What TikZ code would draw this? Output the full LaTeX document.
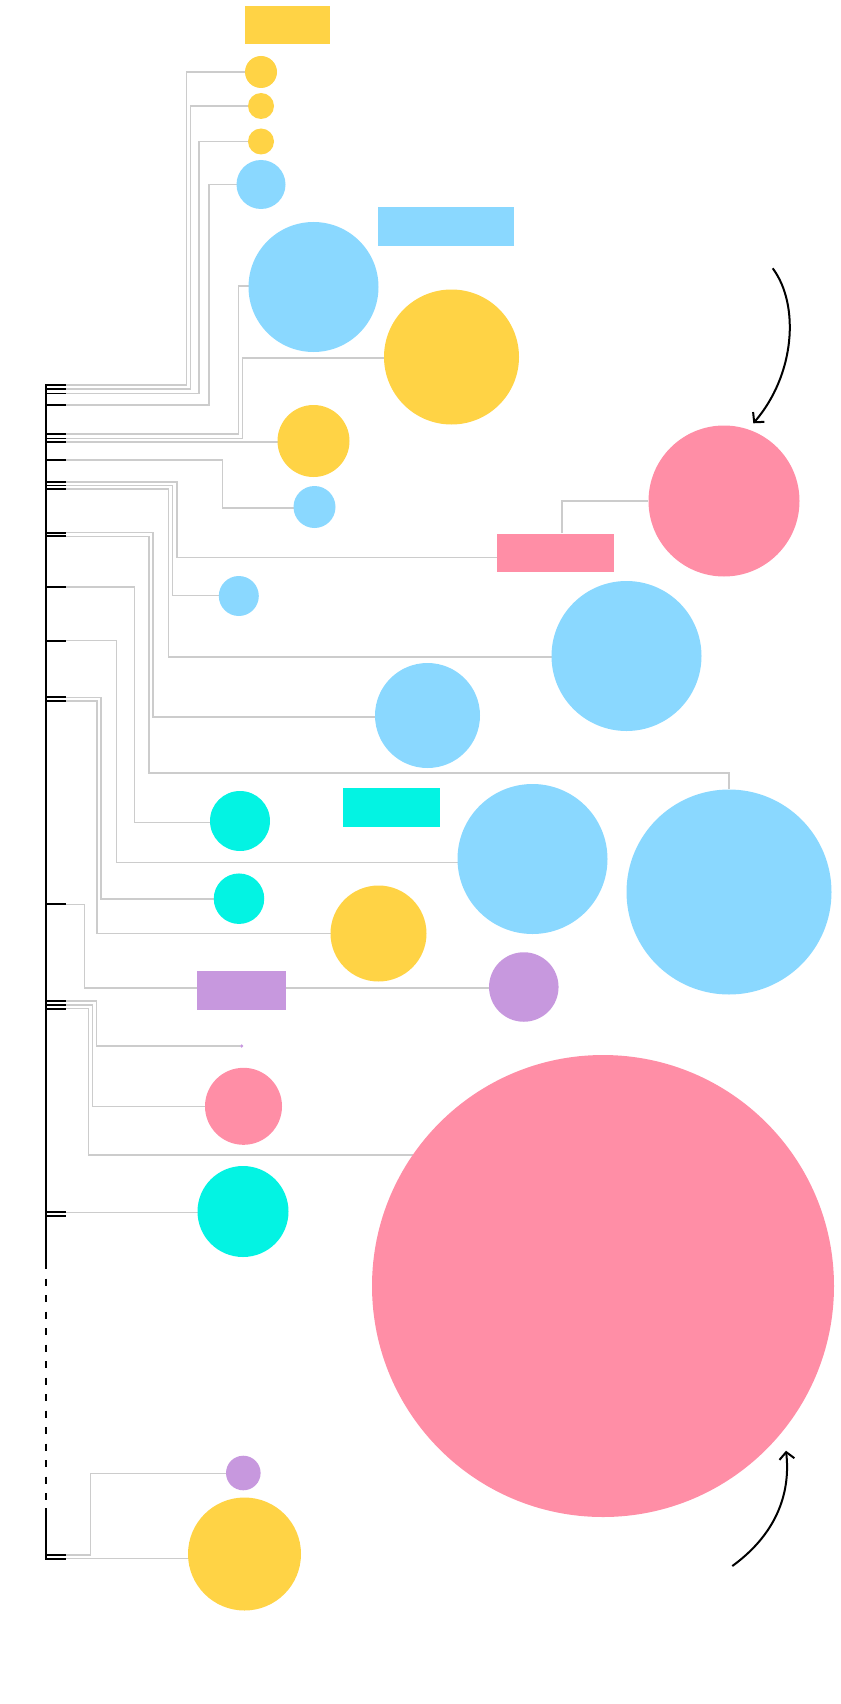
\documentclass[tikz,border=0pt]{standalone}
\usetikzlibrary{arrows.meta,calc}
\pgfdeclarelayer{background}
\pgfsetlayers{background,main}
\definecolor{cyel}{RGB}{255,211,69}
\definecolor{cblu}{RGB}{138,216,255}
\definecolor{cpnk}{RGB}{255,142,166}
\definecolor{ccya}{RGB}{3,243,227}
\definecolor{cpur}{RGB}{199,152,222}
\definecolor{cgry}{RGB}{204,204,204}
\begin{document}
\begin{tikzpicture}[x=1pt,y=-1pt,
  bub/.style={circle,inner sep=0pt,draw=none},
  box/.style={rectangle,inner sep=0pt,draw=none},
  conn/.style={draw=cgry,line width=1.4pt},
  tk/.style={draw=black,line width=1.8pt},
  axis/.style={draw=black,line width=2pt},
  arr/.style={draw=black,line width=2pt,-{Straight Barb[length=7pt,width=15pt]}}]
\useasboundingbox (0,0) rectangle (840,1704);

% nodes
\node[box,fill=cyel,minimum width=85pt,minimum height=38pt] (ry) at (287.5,25.5) {};
\node[bub,fill=cyel,minimum size=32pt] (y1) at (261,72) {};
\node[bub,fill=cyel,minimum size=26pt] (y2) at (261,106) {};
\node[bub,fill=cyel,minimum size=26pt] (y3) at (261,141.5) {};
\node[bub,fill=cblu,minimum size=49pt] (b1) at (261,184.5) {};
\node[box,fill=cblu,minimum width=136pt,minimum height=39pt] (rb) at (446,227) {};
\node[bub,fill=cblu,minimum size=130pt] (b2) at (313.5,287) {};
\node[bub,fill=cyel,minimum size=135pt] (y4) at (451.5,357) {};
\node[bub,fill=cyel,minimum size=72pt] (y5) at (313.5,441) {};
\node[bub,fill=cblu,minimum size=42pt] (b3) at (314.5,507) {};
\node[bub,fill=cpnk,minimum size=151pt] (p1) at (724,501) {};
\node[box,fill=cpnk,minimum width=117.5pt,minimum height=38pt] (rp) at (555.3,552.6) {};
\node[bub,fill=cblu,minimum size=40pt] (b4) at (238.8,596) {};
\node[bub,fill=cblu,minimum size=150pt] (b5) at (626.5,656) {};
\node[bub,fill=cblu,minimum size=105pt] (b6) at (427.5,715.5) {};
\node[box,fill=ccya,minimum width=97pt,minimum height=39.5pt] (rc) at (391.5,807.7) {};
\node[bub,fill=ccya,minimum size=60pt] (c1) at (240,821) {};
\node[bub,fill=cblu,minimum size=150pt] (b7) at (532.5,859) {};
\node[bub,fill=cblu,minimum size=205pt] (b8) at (729,892) {};
\node[bub,fill=ccya,minimum size=50.5pt] (c2) at (239,898.7) {};
\node[bub,fill=cyel,minimum size=96pt] (y6) at (378.5,933.5) {};
\node[box,fill=cpur,minimum width=89.3pt,minimum height=39.3pt] (rpu) at (241.3,990.3) {};
\node[bub,fill=cpur,minimum size=69.5pt] (u1) at (523.8,987) {};
\node[bub,fill=cpur,minimum size=3.5pt] (u2) at (241.7,1046) {};
\node[bub,fill=cpnk,minimum size=77pt] (p2) at (243.5,1106.3) {};
\node[bub,fill=cpnk,minimum size=462pt] (p3) at (603,1286) {};
\node[bub,fill=ccya,minimum size=91pt] (c3) at (243,1211.5) {};
\node[bub,fill=cpur,minimum size=34.6pt] (u3) at (243.3,1473) {};
\node[bub,fill=cyel,minimum size=113pt] (y7) at (244.5,1554) {};

% timeline
\coordinate (tlA) at (45.7,384);
\coordinate (tlB) at (45.7,1262);
\coordinate (tlC) at (45.7,1508);
\coordinate (tlD) at (45.7,1559.6);
\draw[axis] (tlA) -- (tlB);
\draw[axis,dash pattern=on 7pt off 9.5pt] (tlB) -- (tlC);
\draw[axis] (tlC) -- (tlD);

% tick ends
\foreach \n/\y in {1/384.8,2/389,3/393.5,4/405,5/434,6/438.4,7/442,8/460,
  9/482,10/485.5,11/489,12/532.7,13/536.3,14/587,15/640.7,16/697.3,17/701,
  18/904.3,19/1001,20/1004.9,21/1008.7,22/1212.3,23/1216,24/1554.8,25/1558.6}{
  \coordinate (t\n) at (66,\y);
  \draw[tk] (t\n -| tlA) -- (t\n);
}

% bends
\coordinate (k1) at (186.7,72);
\coordinate (k2) at (190.7,106);
\coordinate (k3) at (199,141.5);
\coordinate (k4) at (209,184.5);
\coordinate (k5) at (238.7,286);
\coordinate (k6) at (242.7,358);
\coordinate (k8) at (222.7,508);
\coordinate (k9) at (177,557.3);
\coordinate (k10) at (172.7,595.5);
\coordinate (k11) at (168.7,657);
\coordinate (k12) at (153,717);
\coordinate (k13) at (149,773);
\coordinate (k14) at (134.7,822.7);
\coordinate (k15) at (116.7,862.7);
\coordinate (k16) at (101,899);
\coordinate (k17) at (97,933.7);
\coordinate (k18) at (84.3,988);
\coordinate (k19) at (96.7,1046);
\coordinate (k20) at (92.7,1106.7);
\coordinate (k21) at (88.7,1155);
\coordinate (k24) at (90.7,1473.3);
\coordinate (kp) at (562,502);

\begin{pgfonlayer}{background}
\draw[conn] (t1) -| (k1) -- (y1 |- k1);
\draw[conn] (t2) -| (k2) -- (y2 |- k2);
\draw[conn] (t3) -| (k3) -- (y3 |- k3);
\draw[conn] (t4) -| (k4) -- (b1 |- k4);
\draw[conn] (t5) -| (k5) -- (b2 |- k5);
\draw[conn] (t6) -| (k6) -- (y4 |- k6);
\draw[conn] (t7) -- (y5 |- t7);
\draw[conn] (t8) -| (k8) -- (b3 |- k8);
\draw[conn] (t9) -| (k9) -- (rp |- k9);
\draw[conn] (rp.north -| kp) |- (p1);
\draw[conn] (t10) -| (k10) -- (b4 |- k10);
\draw[conn] (t11) -| (k11) -- (b5 |- k11);
\draw[conn] (t12) -| (k12) -- (b6 |- k12);
\draw[conn] (t13) -| (k13) -| (b8);
\draw[conn] (t14) -| (k14) -- (c1 |- k14);
\draw[conn] (t15) -| (k15) -- (b7 |- k15);
\draw[conn] (t16) -| (k16) -- (c2 |- k16);
\draw[conn] (t17) -| (k17) -- (y6 |- k17);
\draw[conn] (t18) -| (k18) -- (u1 |- k18);
\draw[conn] (t19) -| (k19) -- (u2);
\draw[conn] (t20) -| (k20) -- (p2 |- k20);
\draw[conn] (t21) -| (k21) -- (p3 |- k21);
\draw[conn] (t22) -- (c3 |- t22);
\draw[conn] (t24) -| (k24) -- (u3 |- k24);
\draw[conn] (t25) -- (y7 |- t25);
\end{pgfonlayer}

% arrows
\coordinate (a1s) at (772.7,268.3);
\coordinate (a1e) at (753.3,423.3);
\coordinate (a2s) at (732.3,1566);
\coordinate (a2e) at (786,1450.7);
\draw[arr] (a1s) .. controls (800,305) and (795,375) .. (a1e);
\draw[arr] (a2s) .. controls (775,1535) and (791,1495) .. (a2e);
\end{tikzpicture}
\end{document}
